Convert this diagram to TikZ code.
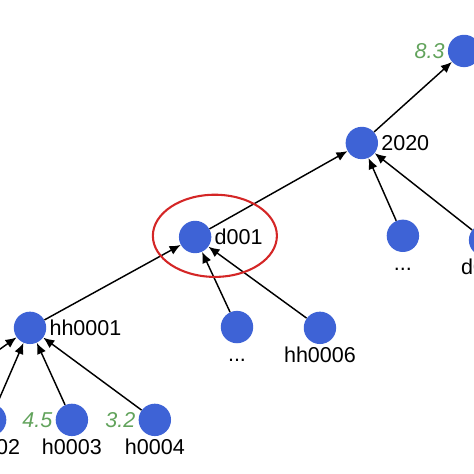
\documentclass[tikz,border=0pt]{standalone}
\usepackage{fontspec}
\setmainfont{Liberation Sans}
\usepackage{xcolor}
\usepackage{tikz}
\usetikzlibrary{positioning,arrows.meta}
\definecolor{nodeblue}{RGB}{62,99,214}
\definecolor{valgreen}{RGB}{98,163,92}
\definecolor{ringred}{RGB}{212,38,38}

\begin{document}
\begin{tikzpicture}[
  vtx/.style={circle, fill=nodeblue, minimum size=0.82cm, inner sep=0pt},
  tag/.style={font=\fontsize{15.5}{18}\selectfont, inner sep=2pt, text height=11pt, text depth=0pt},
  val/.style={font=\fontsize{15.5}{18}\selectfont\itshape, text=valgreen, inner sep=2pt},
  edge/.style={-{Latex[length=2.8mm,width=2.4mm]}, line width=1.05pt},
  ring/.style={draw=ringred, line width=1.5pt}
]
\useasboundingbox (0,0) rectangle (12,12);
\clip (0,0) rectangle (12,12);

% upper levels
\node[vtx, label={[val]left:8.3}] (top) at (11.75,10.71) {};
\node[vtx, label={[tag]right:2020}] (y2020) at (9.16,8.38) {};
\node[vtx, label={[tag]right:d001}] (d001) at (4.94,6.00) {};
\node[vtx, label={[tag]below:...}] (dotsB) at (10.20,6.03) {};
\node[vtx, label={[tag]below:d002}] (d002) at (12.28,5.92) {};

% households under d001
\node[vtx, label={[tag]right:hh0001}] (hh0001) at (0.76,3.70) {};
\node[vtx, label={[tag]below:...}] (dotsA) at (6.00,3.72) {};
\node[vtx, label={[tag]below:hh0006}] (hh0006) at (8.10,3.70) {};

% leaves under hh0001
\node[vtx, label={[tag]below:h0001}] (h0001) at (-2.53,1.37) {};
\node[vtx, label={[tag]below:h0002}] (h0002) at (-0.25,1.37) {};
\node[vtx, label={[val]left:4.5}, label={[tag]below:h0003}] (h0003) at (1.82,1.37) {};
\node[vtx, label={[val]left:3.2}, label={[tag]below:h0004}] (h0004) at (3.92,1.37) {};

% edges child -> parent
\foreach \c in {h0001,h0002,h0003,h0004}
  \draw[edge] (\c) -- (hh0001);
\foreach \c in {hh0001,dotsA,hh0006}
  \draw[edge] (\c) -- (d001);
\foreach \c in {d001,dotsB,d002}
  \draw[edge] (\c) -- (y2020);
\draw[edge] (y2020) -- (top);

% highlight
\draw[ring] (5.44,6.03) ellipse [x radius=1.57, y radius=1.04];
\end{tikzpicture}
\end{document}
